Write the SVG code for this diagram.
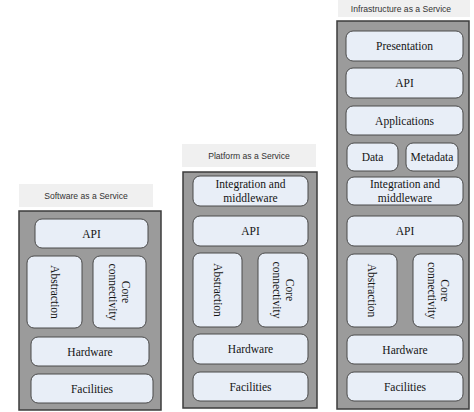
<svg xmlns="http://www.w3.org/2000/svg" width="474" height="412" viewBox="0 0 474 412">
<style>
.title-bg{fill:#f0f0f0}
.title{font-family:"Liberation Sans",Arial,sans-serif;font-size:8.6px;fill:#333;text-anchor:middle}
.cont{fill:#9b9b9b;stroke:#3c3c3c;stroke-width:1.5}
.box{fill:#e8eef7;stroke:#4a4a4a;stroke-width:1}
.lbl{font-family:"Liberation Serif","Times New Roman",serif;font-size:11.5px;fill:#141414;text-anchor:middle}
</style>
<rect width="474" height="412" fill="#ffffff"/>
<g id="saas">
<rect class="title-bg" x="19" y="184" width="134" height="23"/>
<text class="title" x="86" y="199">Software as a Service</text>
<rect class="cont" x="19" y="211" width="142" height="199"/>
<g id="saas-api"><rect class="box" x="35" y="219" width="113" height="29" rx="7"/><text class="lbl" x="91.5" y="237.5">API</text></g>
<g id="saas-abstraction"><rect class="box" x="27" y="256" width="55" height="72" rx="7"/><text class="lbl" transform="translate(54.5,292) rotate(90)" x="0" y="4">Abstraction</text></g>
<g id="saas-core"><rect class="box" x="93" y="256" width="53" height="72" rx="7"/><text class="lbl" transform="translate(119.5,292) rotate(90)" x="0" y="-2.5">Core</text><text class="lbl" transform="translate(119.5,292) rotate(90)" x="0" y="10.5">connectivity</text></g>
<g id="saas-hardware"><rect class="box" x="31" y="337" width="118" height="29" rx="7"/><text class="lbl" x="90" y="355.5">Hardware</text></g>
<g id="saas-facilities"><rect class="box" x="31" y="374" width="122" height="29" rx="7"/><text class="lbl" x="92" y="392.5">Facilities</text></g>
</g>
<g id="paas">
<rect class="title-bg" x="182" y="144" width="134" height="23"/>
<text class="title" x="249" y="159">Platform as a Service</text>
<rect class="cont" x="183" y="172" width="134" height="236"/>
<g id="paas-integration"><rect class="box" x="193" y="176" width="115" height="30" rx="7"/><text class="lbl" x="250.5" y="187.5">Integration and</text><text class="lbl" x="250.5" y="201.5">middleware</text></g>
<g id="paas-api"><rect class="box" x="193" y="216" width="115" height="30" rx="7"/><text class="lbl" x="250.5" y="235">API</text></g>
<g id="paas-abstraction"><rect class="box" x="193" y="253" width="49" height="74" rx="7"/><text class="lbl" transform="translate(217.5,290) rotate(90)" x="0" y="4">Abstraction</text></g>
<g id="paas-core"><rect class="box" x="258" y="253" width="50" height="74" rx="7"/><text class="lbl" transform="translate(283,290) rotate(90)" x="0" y="-2.5">Core</text><text class="lbl" transform="translate(283,290) rotate(90)" x="0" y="10.5">connectivity</text></g>
<g id="paas-hardware"><rect class="box" x="193" y="334" width="115" height="30" rx="7"/><text class="lbl" x="250.5" y="353">Hardware</text></g>
<g id="paas-facilities"><rect class="box" x="193" y="372" width="115" height="29" rx="7"/><text class="lbl" x="250.5" y="390.5">Facilities</text></g>
</g>
<g id="iaas">
<rect class="title-bg" x="338" y="0" width="132" height="17"/>
<text class="title" x="401" y="12">Infrastructure as a Service</text>
<rect class="cont" x="337" y="21" width="132" height="388"/>
<g id="iaas-presentation"><rect class="box" x="346" y="31" width="117" height="30" rx="7"/><text class="lbl" x="404.5" y="50">Presentation</text></g>
<g id="iaas-api-top"><rect class="box" x="346" y="68" width="117" height="30" rx="7"/><text class="lbl" x="404.5" y="87">API</text></g>
<g id="iaas-applications"><rect class="box" x="346" y="106" width="117" height="29" rx="7"/><text class="lbl" x="404.5" y="124.5">Applications</text></g>
<g id="iaas-data"><rect class="box" x="347" y="143" width="51" height="28" rx="7"/><text class="lbl" x="372.5" y="161">Data</text></g>
<g id="iaas-metadata"><rect class="box" x="406" y="143" width="52" height="28" rx="7"/><text class="lbl" x="432" y="161">Metadata</text></g>
<g id="iaas-integration"><rect class="box" x="347" y="177" width="116" height="28" rx="7"/><text class="lbl" x="405" y="188">Integration and</text><text class="lbl" x="405" y="202">middleware</text></g>
<g id="iaas-api"><rect class="box" x="347" y="216" width="116" height="30" rx="7"/><text class="lbl" x="405" y="235">API</text></g>
<g id="iaas-abstraction"><rect class="box" x="347" y="254" width="50" height="73" rx="7"/><text class="lbl" transform="translate(372,290.5) rotate(90)" x="0" y="4">Abstraction</text></g>
<g id="iaas-core"><rect class="box" x="413" y="254" width="50" height="73" rx="7"/><text class="lbl" transform="translate(438,290.5) rotate(90)" x="0" y="-2.5">Core</text><text class="lbl" transform="translate(438,290.5) rotate(90)" x="0" y="10.5">connectivity</text></g>
<g id="iaas-hardware"><rect class="box" x="347" y="335" width="116" height="29" rx="7"/><text class="lbl" x="405" y="353.5">Hardware</text></g>
<g id="iaas-facilities"><rect class="box" x="347" y="372" width="116" height="29" rx="7"/><text class="lbl" x="405" y="390.5">Facilities</text></g>
</g>
<g id="connectors"/>
</svg>
